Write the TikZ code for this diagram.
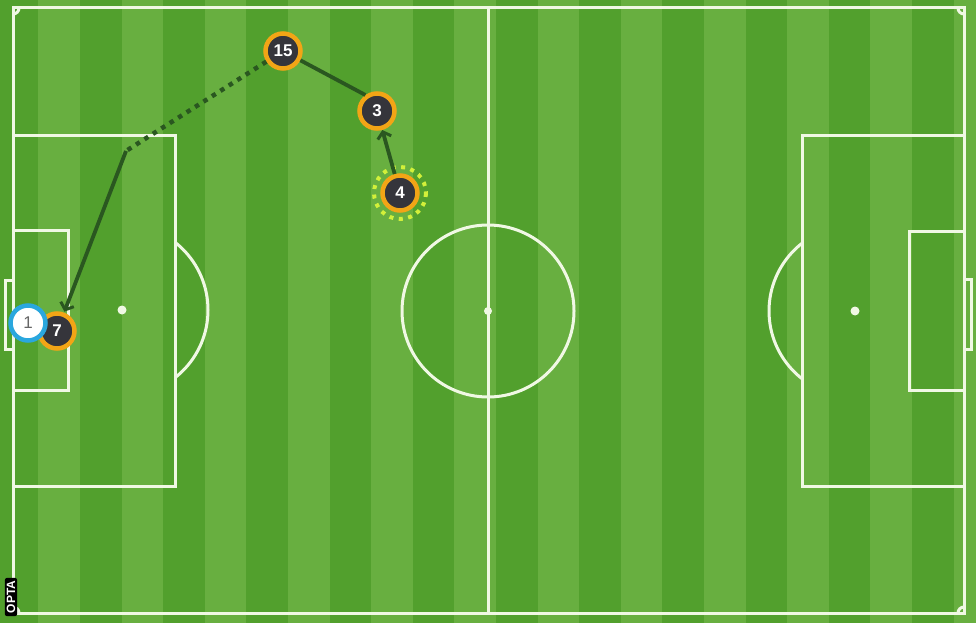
\documentclass[tikz,border=0pt]{standalone}
\usepackage{fontspec}
\setmainfont{Liberation Sans}
\usetikzlibrary{arrows.meta}
\definecolor{pdark}{HTML}{52A02D}
\definecolor{plight}{HTML}{68AF40}
\definecolor{pline}{HTML}{F0F8E4}
\definecolor{passc}{HTML}{2A5720}
\definecolor{ringc}{HTML}{F2A516}
\definecolor{chip}{HTML}{35353B}
\definecolor{gkc}{HTML}{2AA7DE}
\definecolor{hlc}{HTML}{D2F03A}
\begin{document}
\begin{tikzpicture}[x=1pt,y=-1pt,
  pl/.style={draw=pline, line width=3pt},
  player/.style={circle, fill=chip, draw=ringc, line width=4.5pt, minimum size=35pt, inner sep=0pt, text=white, font=\bfseries\fontsize{17}{17}\selectfont},
  keeper/.style={player, fill=white, draw=gkc, text=black!60, font=\fontsize{17}{17}\selectfont},
  passline/.style={draw=passc, line width=3.8pt},
  passarrow/.style={passline, -{Straight Barb[length=6pt,width=14pt,line width=3pt]}},
  passdots/.style={passline, line width=4.5pt, dash pattern=on 4.5pt off 5.5pt},
  hlring/.style={draw=hlc, line width=4pt, dash pattern=on 4pt off 5.5pt},
  optabox/.style={fill=black, text=white, font=\bfseries\fontsize{12}{12}\selectfont, rotate=90, rounded corners=2.5pt, inner xsep=3pt, inner ysep=2pt}
]
\useasboundingbox (0,0) rectangle (976,623);
% grass
\fill[plight] (0,0) rectangle (976,623);
\foreach \k in {-1,...,10} \fill[pdark] ({80+83.2*\k},0) rectangle ++(41.6,623);
% pitch markings
\draw[pl] (13,8) rectangle (964,613);
\draw[pl] (488,8) -- (488,613);
\draw[pl] (488,311) circle (86);
\fill[pline] (488,311) circle (4);
% left end
\draw[pl] (13,135) rectangle (175,486);
\draw[pl] (13,230) rectangle (68,390);
\fill[pline] (122,310) circle (4.5);
\begin{scope}
  \clip (175,0) rectangle (300,623);
  \draw[pl] (122,310) circle (86);
\end{scope}
\draw[pl] (13,280) -- (5,280) -- (5,349) -- (13,349);
% right end
\draw[pl] (964,135) rectangle (802,486);
\draw[pl] (964,231) rectangle (909,390);
\fill[pline] (855,311) circle (4.5);
\begin{scope}
  \clip (700,0) rectangle (802,623);
  \draw[pl] (855,311) circle (86);
\end{scope}
\draw[pl] (964,279) -- (971,279) -- (971,349) -- (964,349);
% corner arcs
\begin{scope}
  \clip (13,8) rectangle (964,613);
  \draw[pl] (13,8) circle (6);
  \draw[pl] (964,8) circle (6);
  \draw[pl] (13,613) circle (6);
  \draw[pl] (964,613) circle (6);
\end{scope}
% players
\node[player] (p15) at (283,51) {15};
\node[player] (p3) at (377,111) {3};
\node[player] (p4) at (400,193) {4};
\draw[hlring] (p4.center) circle (26);
\node[player] (p7) at (57,331) {7};
\node[keeper] (p1) at (28,323) {1};
\coordinate (turn) at (126,151);
% passes
\draw[passarrow] (p4) -- (p3);
\draw[passline] (p3.126) -- (p15);
\draw[passdots] (p15) -- (turn);
\draw[passarrow, shorten >=1pt] (turn) -- (p7);
% credit
\node[optabox] (opta) at (11,597) {OPTA};
\end{tikzpicture}
\end{document}
